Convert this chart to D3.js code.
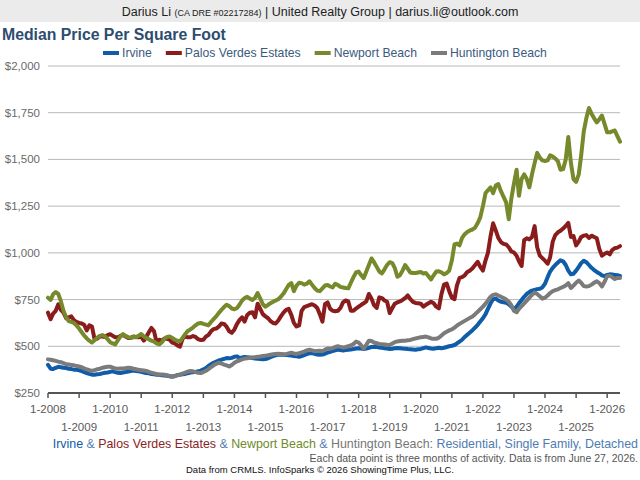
<!DOCTYPE html>
<html><head><meta charset="utf-8">
<script src="https://cdn.jsdelivr.net/npm/d3@7"></script>
<style>body{margin:0;background:#fff;}svg{display:block;font-family:"Liberation Sans",Arial,sans-serif;}</style>
</head><body><svg id="c" width="640" height="480"></svg>
<script>
// ---- DATA (monthly, rolling 3-month median $/sqft) ----
const startYear = 2008, startMonth = 0; // Jan 2008, one value per month
const seriesNames = ["Irvine", "Palos Verdes Estates", "Newport Beach", "Huntington Beach"];
const irvine = [
400,380,378,385,390,388,385,384,380,378,375,374,
372,368,362,357,352,348,348,350,352,355,358,360,
363,366,362,358,357,360,362,365,368,370,368,366,
363,360,357,355,352,350,348,347,345,343,342,340,
338,342,346,348,350,352,356,359,361,363,366,370,
376,384,395,404,412,418,424,428,433,437,436,438,
444,446,438,440,443,442,440,437,435,433,432,430,
432,436,442,447,451,455,456,455,454,452,450,448,
446,444,448,453,458,462,464,460,456,455,456,460,
466,470,475,478,482,480,478,480,482,483,485,488,
490,488,486,488,492,496,497,496,494,492,490,488,
486,487,489,491,490,488,487,485,484,483,482,484,
486,490,494,491,488,487,490,492,490,492,496,500,
503,507,515,525,535,550,562,574,586,600,615,632,
650,672,700,730,752,755,745,738,736,733,725,712,
700,712,730,748,765,780,790,798,802,806,808,815,
835,870,900,920,935,948,960,955,935,905,885,888,
905,925,945,958,950,935,920,908,898,890,880,875,
882,885,884,882,880,876];
const palosVerdes = [
680,645,675,690,725,695,680,650,655,660,640,630,
625,622,615,585,612,605,540,540,552,552,550,560,
565,556,548,548,555,562,552,545,545,552,550,548,
552,530,550,575,598,580,522,535,530,542,540,535,
520,515,505,498,540,553,548,548,555,550,538,533,
535,553,560,580,592,595,605,622,620,605,580,572,
590,620,640,655,632,668,680,682,655,728,700,672,
660,650,635,625,622,638,660,680,695,700,668,625,
606,612,690,710,715,720,725,718,705,672,632,725,
735,700,690,688,690,705,735,745,740,690,690,702,
712,722,730,740,780,755,720,705,762,758,745,738,
678,705,728,735,740,748,758,772,752,738,732,730,
728,712,722,730,738,730,712,703,780,830,836,795,
760,752,825,866,870,880,898,905,918,935,952,925,
905,960,1000,1090,1158,1120,1080,1058,1048,1045,1030,1008,
1002,985,955,930,1068,1078,1072,1085,1143,1030,985,972,
958,942,975,1060,1095,1110,1118,1130,1145,1160,1085,1090,
1040,1060,1085,1092,1095,1080,1092,1085,1078,1020,985,995,
1002,992,1015,1025,1028,1036];
const newportBeach = [
760,748,778,790,780,740,690,655,635,630,625,612,
595,575,558,542,530,520,532,545,556,560,553,538,
522,515,510,532,552,565,556,548,545,550,548,556,
566,552,545,538,530,525,515,510,522,540,550,553,
545,535,530,527,545,565,582,590,600,612,622,625,
620,616,612,630,645,660,678,695,710,722,715,702,
698,705,722,745,758,765,755,748,760,785,755,725,
712,722,730,738,745,752,765,782,805,828,838,795,
825,840,838,830,835,848,830,812,798,795,810,825,
828,820,815,835,828,818,815,812,810,840,870,895,
900,880,865,900,935,970,950,925,900,890,912,935,
950,945,920,872,880,905,935,915,895,892,892,895,
898,890,892,875,858,880,900,902,895,885,892,905,
960,1045,1050,1040,1080,1100,1112,1120,1125,1135,1160,1190,
1250,1320,1335,1350,1320,1360,1368,1330,1300,1270,1180,1290,
1370,1445,1305,1395,1420,1395,1350,1420,1480,1535,1510,1495,
1492,1495,1522,1515,1505,1490,1445,1448,1500,1620,1480,1395,
1380,1420,1520,1650,1720,1775,1745,1720,1698,1715,1735,1690,
1645,1645,1650,1655,1625,1595];
const huntingtonBeach = [
430,428,425,422,418,415,410,404,402,400,398,395,
392,388,382,377,372,368,372,377,380,385,388,390,
391,386,381,380,381,381,383,385,384,380,377,374,
372,370,368,363,358,355,352,350,349,348,345,340,
337,340,344,348,354,359,364,368,366,362,358,357,
362,369,378,388,398,406,412,408,402,398,392,400,
412,420,424,430,434,436,438,440,442,444,445,448,
450,452,455,457,459,460,459,457,458,462,466,462,
459,463,467,472,478,482,478,474,475,476,474,482,
488,487,490,496,500,497,494,496,500,504,512,525,
520,505,488,508,530,528,520,516,512,511,510,508,
507,515,522,526,528,530,530,532,534,538,542,545,
548,550,552,548,542,540,540,546,558,570,578,585,
590,600,610,620,628,636,644,652,660,672,685,698,
712,728,745,765,775,778,772,765,758,750,738,720,
690,682,700,715,730,745,760,775,788,780,768,755,
760,772,785,795,800,805,812,818,825,838,812,825,
840,852,840,822,820,822,830,840,848,838,820,845,
875,878,870,860,866,866];
const yTicks = [250, 500, 750, 1000, 1250, 1500, 1750, 2000];
const xTickYears = d3.range(2008, 2027);
const seriesColors = ["#0f5ca9", "#8b1c1c", "#76892b", "#7b7b7b"];

// ---- CHART ----
const svg = d3.select("#c");
const months = irvine.map((_, i) => new Date(startYear, startMonth + i, 1));
const series = [irvine, palosVerdes, newportBeach, huntingtonBeach];

const x = d3.scaleTime().domain([new Date(2008,0,1), new Date(2026,5,1)]).range([48, 620]);
const y = d3.scaleLinear().domain([250, 2000]).range([393, 66]);

svg.append("rect").attr("width",640).attr("height",480).attr("fill","#fff");
// header band
svg.append("rect").attr("x",0).attr("y",0).attr("width",640).attr("height",22).attr("fill","#ebebeb");
const ht = svg.append("text").attr("x",320).attr("y",16).attr("text-anchor","middle")
  .attr("fill","#222").attr("font-size",12.5);
ht.append("tspan").text("Darius Li ");
ht.append("tspan").attr("font-size",9).text("(CA DRE #02217284)");
ht.append("tspan").text(" | United Realty Group | darius.li@outlook.com");

// title
svg.append("text").attr("x",2).attr("y",40).attr("font-weight","bold").attr("font-size",15.8)
  .attr("fill","#2d4d70").text("Median Price Per Square Foot");

// legend
let lx = 103;
seriesNames.forEach((n, k) => {
  svg.append("rect").attr("x",lx).attr("y",51).attr("width",16).attr("height",4).attr("fill",seriesColors[k]);
  const t = svg.append("text").attr("x",lx+19).attr("y",57).attr("font-size",12.2).attr("fill","#3b5a7e").text(n);
  lx += 19 + t.node().getComputedTextLength() + 14;
});

// gridlines & y labels
svg.append("g").selectAll("line").data(yTicks.filter(v => v > 250)).join("line")
  .attr("x1",48).attr("x2",620).attr("y1",d=>y(d)).attr("y2",d=>y(d))
  .attr("stroke","#b8b8b8").attr("stroke-width",1);
svg.append("g").selectAll("text").data(yTicks).join("text")
  .attr("x",40).attr("y",d=>y(d)).attr("dy","0.35em").attr("text-anchor","end")
  .attr("font-size",11.5).attr("fill","#6a6a6a").text(d => d3.format("$,")(d));

// lines
const line = d3.line().x((d,i)=>x(months[i])).y(d=>y(d));
series.forEach((s, k) => {
  svg.append("path").datum(s).attr("d", line).attr("fill","none")
    .attr("stroke", seriesColors[k]).attr("stroke-width",4)
    .attr("stroke-linejoin","round").attr("stroke-linecap","round");
});

// x axis
svg.append("line").attr("x1",48).attr("x2",620).attr("y1",y(250)).attr("y2",y(250))
  .attr("stroke","#555").attr("stroke-width",2);
const xt = svg.append("g");
xTickYears.forEach(yr => {
  const px = x(new Date(yr,0,1));
  xt.append("line").attr("x1",px).attr("x2",px).attr("y1",y(250)).attr("y2",y(250)+5)
    .attr("stroke","#555").attr("stroke-width",1.5);
  xt.append("text").attr("x",px).attr("y", (yr % 2 === 0) ? 413 : 431).attr("text-anchor","middle")
    .attr("font-size",11.5).attr("fill","#5a5a5a").text("1-" + yr);
});

// subtitle
const st = svg.append("text").attr("x",638).attr("y",448).attr("text-anchor","end").attr("font-size",12.4);
const amp = "#5a80b0";
[["Irvine", seriesColors[0]], [" & ", amp], ["Palos Verdes Estates", "#8b2323"], [" & ", amp],
 ["Newport Beach", "#6e8a2c"], [" & ", amp], ["Huntington Beach", "#777"],
 [": Residential, Single Family, Detached", "#4f7cb0"]].forEach(([t,c]) => {
  st.append("tspan").attr("fill", c).text(t);
});
svg.append("text").attr("x",638).attr("y",462).attr("text-anchor","end").attr("font-size",10.5)
  .attr("fill","#555").text("Each data point is three months of activity. Data is from June 27, 2026.");
svg.append("text").attr("x",320).attr("y",473).attr("text-anchor","middle").attr("font-size",9.5)
  .attr("fill","#111").text("Data from CRMLS. InfoSparks © 2026 ShowingTime Plus, LLC.");
</script></body></html>
